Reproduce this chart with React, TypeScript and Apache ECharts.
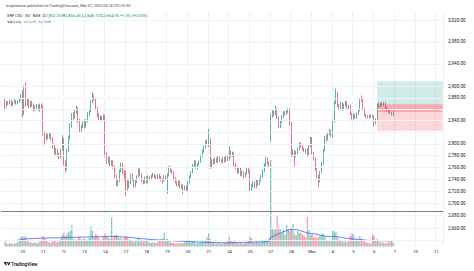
import React, { useEffect, useRef } from "react";
import * as echarts from "echarts";

const FONT = "Roboto, 'Noto Sans', sans-serif";
const UP = "#089981";
const DOWN = "#F23645";

// Day labels of the time axis (first = Feb 7, partly visible; last three = future days)
const dayLabels = ["7", "10", "11", "12", "13", "14", "17", "18", "19", "20", "21", "24", "25", "27", "28", "Mar", "4", "5", "6", "7", "10", "11"];
const sessionTimes = ["09:15", "09:45", "10:15", "10:45", "11:15", "11:45", "12:15", "12:45", "13:15", "13:45", "14:15", "14:45", "15:15"];
const lastDaySlots = 5;

// 30-min bars: [open, high, low, close]
const feb07 = [[2876,2880,2858,2866],[2866,2874,2863,2872],[2872,2875,2867,2870],[2870,2877,2868,2874],[2874,2876,2865,2868],[2868,2874,2866,2872],[2872,2877,2870,2874],[2874,2876,2868,2871],[2871,2876,2869,2873],[2873,2880,2871,2878],[2878,2886,2876,2882]];
const feb10 = [[2884,2893,2846,2852],[2852,2902,2850,2896],[2898,2907,2864,2870],[2870,2879,2866,2876],[2876,2878,2862,2866],[2866,2875,2863,2872],[2872,2874,2864,2868],[2868,2870,2856,2860],[2860,2867,2857,2864],[2864,2869,2861,2866],[2866,2868,2857,2860],[2860,2870,2856,2868],[2868,2870,2860,2864]];
const feb11 = [[2864,2868,2814,2818],[2818,2822,2797,2810],[2810,2818,2806,2815],[2815,2818,2808,2812],[2812,2820,2809,2816],[2816,2818,2806,2810],[2810,2812,2792,2795],[2795,2798,2781,2785],[2785,2793,2782,2790],[2790,2792,2779,2782],[2782,2785,2774,2778],[2778,2792,2776,2790],[2790,2815,2788,2812]];
const feb12 = [[2808,2810,2764,2768],[2768,2772,2752,2760],[2760,2792,2756,2790],[2790,2814,2786,2812],[2812,2836,2808,2832],[2832,2853,2828,2850],[2850,2855,2842,2846],[2846,2860,2843,2856],[2856,2866,2852,2862],[2862,2864,2836,2840],[2840,2843,2820,2824],[2824,2833,2820,2830],[2830,2839,2827,2836]];
const feb13 = [[2835,2840,2826,2830],[2830,2843,2828,2840],[2840,2855,2837,2852],[2852,2861,2848,2858],[2858,2876,2855,2874],[2874,2890,2870,2882],[2882,2886,2874,2878],[2878,2880,2858,2862],[2862,2864,2846,2850],[2850,2853,2840,2843],[2843,2849,2840,2846],[2846,2848,2838,2842],[2842,2851,2840,2848]];
const feb14 = [[2848,2850,2778,2782],[2782,2786,2766,2770],[2770,2779,2766,2775],[2775,2778,2762,2766],[2766,2773,2763,2770],[2770,2772,2758,2762],[2762,2764,2742,2745],[2745,2748,2728,2732],[2732,2741,2729,2738],[2738,2757,2735,2755],[2755,2768,2752,2766],[2766,2768,2749,2752],[2752,2755,2737,2740]];
const feb17 = [[2748,2755,2712,2738],[2738,2741,2722,2728],[2728,2738,2725,2735],[2735,2750,2732,2748],[2748,2750,2737,2740],[2740,2742,2726,2729],[2729,2739,2727,2736],[2736,2747,2734,2745],[2745,2759,2743,2756],[2756,2758,2746,2748],[2748,2750,2736,2738],[2738,2740,2732,2735],[2735,2745,2733,2742]];
const feb18 = [[2742,2745,2733,2736],[2736,2747,2734,2744],[2744,2746,2738,2741],[2741,2748,2739,2746],[2746,2751,2744,2748],[2748,2750,2742,2745],[2745,2747,2739,2742],[2742,2749,2740,2747],[2747,2749,2741,2744],[2744,2746,2737,2740],[2740,2742,2733,2738],[2738,2747,2736,2745],[2745,2747,2739,2742]];
const feb19 = [[2742,2750,2716,2748],[2748,2763,2745,2760],[2760,2762,2752,2755],[2755,2757,2749,2752],[2752,2754,2740,2742],[2742,2744,2733,2735],[2735,2737,2728,2730],[2730,2738,2728,2736],[2736,2738,2725,2727],[2727,2732,2724,2730],[2730,2732,2716,2724],[2724,2730,2722,2728],[2728,2730,2721,2724]];
const feb20 = [[2724,2737,2720,2735],[2735,2747,2733,2745],[2745,2754,2742,2752],[2752,2766,2750,2764],[2764,2772,2761,2770],[2770,2772,2758,2760],[2760,2767,2757,2765],[2765,2772,2763,2770],[2770,2782,2768,2780],[2780,2790,2777,2788],[2788,2797,2785,2795],[2795,2806,2792,2803],[2803,2808,2797,2800]];
const feb21 = [[2800,2826,2795,2808],[2808,2810,2758,2762],[2762,2774,2759,2772],[2772,2775,2765,2768],[2768,2777,2766,2775],[2775,2777,2768,2770],[2770,2779,2768,2777],[2777,2779,2770,2772],[2772,2774,2767,2770],[2770,2778,2768,2776],[2776,2778,2769,2771],[2771,2780,2769,2778],[2778,2780,2771,2774]];
const feb24 = [[2774,2795,2772,2786],[2786,2789,2777,2780],[2780,2787,2778,2784],[2784,2786,2762,2765],[2765,2768,2757,2760],[2760,2762,2749,2752],[2752,2760,2750,2758],[2758,2760,2745,2748],[2748,2755,2746,2752],[2752,2754,2742,2745],[2745,2752,2743,2750],[2750,2760,2748,2758],[2758,2760,2750,2754]];
const feb25 = [[2754,2756,2720,2724],[2724,2733,2721,2730],[2730,2737,2727,2735],[2735,2737,2725,2728],[2728,2740,2726,2738],[2738,2740,2729,2732],[2732,2742,2730,2740],[2740,2747,2737,2745],[2745,2757,2743,2755],[2755,2767,2752,2765],[2765,2778,2762,2775],[2775,2777,2765,2768],[2768,2770,2760,2764]];
const feb27 = [[2808,2852,2804,2848],[2848,2858,2845,2856],[2856,2858,2848,2852],[2852,2866,2850,2860],[2860,2862,2843,2845],[2845,2847,2827,2830],[2830,2840,2827,2838],[2838,2850,2836,2848],[2848,2857,2845,2855],[2855,2857,2849,2852],[2852,2860,2850,2858],[2858,2862,2853,2860],[2860,2862,2832,2835]];
const feb28 = [[2835,2838,2778,2782],[2782,2791,2779,2788],[2788,2790,2762,2780],[2780,2788,2777,2786],[2786,2794,2783,2792],[2792,2802,2789,2800],[2800,2803,2794,2796],[2796,2798,2788,2790],[2790,2794,2786,2788],[2788,2792,2783,2790],[2790,2792,2778,2782],[2782,2800,2780,2798],[2798,2812,2795,2810]];
const mar03 = [[2808,2812,2782,2785],[2785,2787,2772,2775],[2775,2777,2755,2758],[2758,2760,2742,2745],[2745,2748,2727,2738],[2738,2754,2735,2752],[2752,2770,2750,2768],[2768,2792,2765,2790],[2790,2814,2787,2812],[2812,2816,2804,2808],[2808,2820,2806,2818],[2818,2826,2815,2822],[2822,2824,2812,2816]];
const mar04 = [[2816,2842,2810,2840],[2840,2874,2837,2872],[2872,2896,2869,2888],[2888,2890,2864,2866],[2866,2869,2858,2862],[2862,2873,2860,2870],[2870,2872,2857,2860],[2860,2870,2858,2868],[2868,2875,2865,2872],[2872,2874,2859,2862],[2862,2868,2860,2866],[2866,2868,2850,2852],[2852,2854,2842,2845]];
const mar05 = [[2845,2853,2842,2850],[2850,2852,2843,2845],[2845,2854,2843,2852],[2852,2860,2850,2858],[2858,2880,2856,2878],[2878,2884,2873,2876],[2876,2878,2858,2860],[2860,2862,2848,2850],[2850,2852,2844,2846],[2846,2850,2844,2848],[2848,2850,2844,2846],[2846,2851,2845,2849],[2849,2850,2845,2847]];
const mar06 = [[2847,2849,2830,2836],[2836,2844,2834,2842],[2842,2870,2840,2868],[2868,2872,2863,2866],[2866,2872,2864,2870],[2870,2872,2865,2868],[2868,2873,2866,2871],[2871,2872,2860,2862],[2862,2864,2856,2858],[2858,2860,2853,2856],[2856,2858,2851,2852],[2852,2855,2849,2853.6],[2852.2,2856.45,2848.1,2854.95]];

// Volume (thousands)
const volFeb07 = [25,18,15,20,17,14,18,20,25,42,55];
const volFeb10 = [60,55,58,35,28,25,22,20,25,18,22,30,40];
const volFeb11 = [60,45,35,28,25,22,30,35,28,25,30,45,66];
const volFeb12 = [80,60,75,85,90,124,45,40,35,50,55,40,45];
const volFeb13 = [45,35,40,50,118,90,55,75,65,50,30,45,60];
const volFeb14 = [75,60,50,45,167,50,65,70,60,45,50,40,55];
const volFeb17 = [60,50,40,35,30,28,35,40,50,35,30,28,35];
const volFeb18 = [40,28,22,20,25,22,20,28,35,40,45,80,30];
const volFeb19 = [45,35,25,20,22,18,20,15,22,18,20,25,30];
const volFeb20 = [35,30,25,30,28,18,20,22,25,30,28,40,55];
const volFeb21 = [78,45,25,22,18,16,20,18,16,18,22,20,30];
const volFeb24 = [57,35,25,35,25,20,18,22,18,16,20,22,35];
const volFeb25 = [57,48,25,22,30,25,20,28,30,35,40,30,50];
const volFeb27 = [500,110,95,100,175,110,100,80,95,70,124,100,90];
const volFeb28 = [110,130,70,65,90,75,80,70,60,50,170,95,65];
const volMar03 = [75,55,50,50,55,65,70,75,60,40,35,30,40];
const volMar04 = [90,85,85,55,40,35,30,28,30,25,30,60,75];
const volMar05 = [70,40,35,30,60,45,40,28,25,22,20,18,70];
const volMar06 = [60,35,45,30,22,25,20,18,22,25,28,30,20.51];

// Volume MA (20) (thousands)
const maFeb07 = [33,33,34,34,34,35,35,35,36,37,38];
const maFeb10 = [40,42,43,44,45,45,46,46,47,47,47,48,48];
const maFeb11 = [49,49,49,49,49,50,50,50,50,50,51,51,51];
const maFeb12 = [52,52,52,53,53,53,53,53,54,54,54,54,54];
const maFeb13 = [55,55,55,55,56,56,56,56,56,56,56,56,57];
const maFeb14 = [57,57,57,58,58,58,58,57,57,57,56,56,55];
const maFeb17 = [54,53,53,52,51,50,49,48,47,46,45,45,44];
const maFeb18 = [43,42,41,40,40,39,39,38,38,38,37,37,36];
const maFeb19 = [35,35,34,33,33,32,32,31,31,30,30,30,29];
const maFeb20 = [29,28,28,27,27,26,26,26,25,25,25,25,24];
const maFeb21 = [24,24,23,23,23,23,23,23,22,22,22,22,22];
const maFeb24 = [22,22,22,23,23,23,23,23,23,23,24,24,24];
const maFeb25 = [25,25,25,25,26,26,26,27,27,27,28,28,29];
const maFeb27 = [52,56,60,65,70,74,78,82,86,89,92,95,97];
const maFeb28 = [99,100,99,97,95,92,90,87,84,81,79,77,76];
const maMar03 = [75,74,72,70,68,66,64,62,60,59,58,57,57];
const maMar04 = [58,58,57,56,55,53,51,49,48,47,46,45,44];
const maMar05 = [43,42,41,41,40,39,38,37,36,36,35,35,35];
const maMar06 = [35,34,34,34,34,33,33,33,33,33,33,33,32.93];

const ohlcDays = [feb07, feb10, feb11, feb12, feb13, feb14, feb17, feb18, feb19, feb20, feb21, feb24, feb25, feb27, feb28, mar03, mar04, mar05, mar06];
const volDays = [volFeb07, volFeb10, volFeb11, volFeb12, volFeb13, volFeb14, volFeb17, volFeb18, volFeb19, volFeb20, volFeb21, volFeb24, volFeb25, volFeb27, volFeb28, volMar03, volMar04, volMar05, volMar06];
const maDays = [maFeb07, maFeb10, maFeb11, maFeb12, maFeb13, maFeb14, maFeb17, maFeb18, maFeb19, maFeb20, maFeb21, maFeb24, maFeb25, maFeb27, maFeb28, maMar03, maMar04, maMar05, maMar06];

// Price scale labels and drawings
const priceLabels = [3020, 2980, 2940, 2900, 2880, 2840, 2800, 2780, 2760, 2740, 2720, 2700, 2680, 2660];
const hiddenGridPrices = [2860, 2820, 2640];
const positionEntry = 2868.45;
const positionTarget = 2909.05;
const positionStop = 2822.70;
const positionStartBar = 2; // bar index within the last session
const drawnLevel = 2687;

const SLOTS = 13;
const categories: string[] = [];
const dayStart: boolean[] = [];
dayLabels.forEach((lab, d) => {
  const n = d === dayLabels.length - 1 ? lastDaySlots : SLOTS;
  for (let k = 0; k < n; k++) {
    categories.push(`${lab}|${sessionTimes[k]}|${d}`);
    dayStart.push(k === 0);
  }
});

const candles: any[] = [];
const vols: any[] = [];
const mas: any[] = [];
ohlcDays.forEach((day, d) => {
  const offset = SLOTS - day.length;
  day.forEach((b, k) => {
    const idx = d * SLOTS + offset + k;
    candles.push([idx, b[0], b[3], b[2], b[1]]);
    const up = b[3] >= b[0];
    vols.push({ value: [idx, volDays[d][k]], itemStyle: { color: up ? "rgba(8,153,129,0.5)" : "rgba(242,54,69,0.5)" } });
    mas.push([idx, maDays[d][k]]);
  });
});
const lastDataSlot = (ohlcDays.length - 1) * SLOTS;
const lastSlot = categories.length - 1;
const posStartCat = categories[lastDataSlot + positionStartBar];
const lastCat = categories[lastSlot];

const fmt = (v: number) => v.toLocaleString("en-US", { minimumFractionDigits: 2, maximumFractionDigits: 2 });
const lastBar = mar06[mar06.length - 1];
const prevClose = mar06[mar06.length - 2][3];
const chg = lastBar[3] - prevClose;
const chgPct = (chg / prevClose) * 100;
const lastVol = volMar06[volMar06.length - 1];
const lastMa = maMar06[maMar06.length - 1];

const TV_PATH = "M14 22H7V11H0V4h14v18zM28 22h-8l7.5-18h8L28 22zM20 12a4 4 0 1 0 0-8a4 4 0 1 0 0 8z";
echarts.graphic.registerShape("tvlogo", echarts.graphic.extendPath(TV_PATH, {}) as any);

const boxLabel = (bg: string) => ({
  show: true,
  position: "end",
  distance: 2.6,
  color: "#ffffff",
  backgroundColor: bg,
  padding: [0.9, 1.5, 0.6, 1.5],
  borderRadius: 0.6,
  fontSize: 4.6,
  fontFamily: FONT,
});

const gridMarks = [...priceLabels, ...hiddenGridPrices].map((v) => ({
  yAxis: v,
  label: { show: priceLabels.includes(v), formatter: fmt(v) },
}));

const option: any = {
  animation: false,
  backgroundColor: "#ffffff",
  textStyle: { fontFamily: FONT },
  grid: { left: 1, right: 30.6, top: 12, bottom: 24.5, outerBoundsMode: "none" },
  xAxis: [
    {
      type: "category",
      data: categories,
      boundaryGap: true,
      axisLine: { show: false },
      axisTick: { show: false },
      axisLabel: {
        interval: (i: number) => dayStart[i] && i > 0,
        formatter: (v: string) => v.split("|")[0],
        color: "#131722",
        fontSize: 4.4,
        margin: 3.3,
        fontFamily: FONT,
      },
      splitLine: {
        show: true,
        interval: (i: number) => dayStart[i] && i > 0 && i <= lastDataSlot,
        lineStyle: { color: "#c3cff0", width: 0.8, type: [1, 1.6] },
      },
    },
    {
      type: "category",
      data: categories,
      position: "top",
      axisLine: { show: false },
      axisTick: { show: false },
      axisLabel: { show: false },
      splitLine: {
        show: true,
        interval: (i: number) => dayStart[i] && i > lastDataSlot,
        lineStyle: { color: "#eef0f5", width: 1 },
      },
    },
  ],
  yAxis: [
    {
      type: "log",
      logBase: 10,
      min: 2630.15,
      max: 3034.78,
      axisLine: { show: false },
      axisTick: { show: false },
      axisLabel: { show: false },
      splitLine: { show: false },
    },
    { type: "value", min: 0, max: 1355, show: false, splitLine: { show: false } },
  ],
  series: [
    {
      type: "line",
      name: "priceScale",
      xAxisIndex: 0,
      yAxisIndex: 0,
      data: [],
      z: 1,
      silent: true,
      markLine: {
        silent: true,
        symbol: ["none", "none"],
        lineStyle: { color: "#f0f3fa", width: 1, type: "solid" },
        label: { position: "end", distance: 4.6, color: "#131722", fontSize: 4.6, fontFamily: FONT },
        data: gridMarks,
      },
    },
    {
      type: "bar",
      name: "Vol",
      xAxisIndex: 0,
      yAxisIndex: 1,
      data: vols,
      barWidth: 1.3,
      z: 2,
    },
    {
      type: "line",
      name: "Vol MA",
      xAxisIndex: 0,
      yAxisIndex: 1,
      data: mas,
      showSymbol: false,
      lineStyle: { color: "#2962FF", width: 0.8 },
      z: 3,
      markLine: {
        silent: true,
        symbol: ["none", "none"],
        lineStyle: { opacity: 0 },
        data: [{ yAxis: lastMa, label: { ...boxLabel("#2962FF"), formatter: lastMa.toFixed(2) + "K" } }],
      },
    },
    {
      type: "candlestick",
      name: "SRF",
      xAxisIndex: 0,
      yAxisIndex: 0,
      data: candles,
      encode: { x: 0, y: [1, 2, 3, 4] },
      barWidth: 1.3,
      itemStyle: { color: UP, color0: DOWN, borderColor: UP, borderColor0: DOWN, borderWidth: 0.7 },
      z: 4,
    },
    {
      type: "line",
      name: "position",
      xAxisIndex: 0,
      yAxisIndex: 0,
      data: [],
      z: 5,
      silent: true,
      markArea: {
        silent: true,
        data: [
          [{ xAxis: posStartCat, yAxis: positionEntry, itemStyle: { color: "rgba(8,153,129,0.2)" } }, { xAxis: lastCat, yAxis: positionTarget }],
          [{ xAxis: posStartCat, yAxis: positionStop, itemStyle: { color: "rgba(242,54,69,0.2)" } }, { xAxis: lastCat, yAxis: positionEntry }],
          [{ xAxis: posStartCat, yAxis: lastBar[3], itemStyle: { color: "rgba(242,54,69,0.28)" } }, { xAxis: lastCat, yAxis: positionEntry }],
        ],
      },
      markLine: {
        silent: true,
        symbol: ["none", "none"],
        data: [
          { yAxis: drawnLevel, lineStyle: { color: "#787b86", width: 1, type: "solid" }, label: { show: false } },
          { yAxis: positionTarget, lineStyle: { opacity: 0 }, label: { ...boxLabel(UP), formatter: fmt(positionTarget) } },
          { yAxis: positionEntry, lineStyle: { opacity: 0 }, label: { ...boxLabel("#6a6d78"), formatter: fmt(positionEntry) } },
          { yAxis: lastBar[3], lineStyle: { opacity: 0 }, label: { ...boxLabel(UP), formatter: fmt(lastBar[3]) } },
          { yAxis: positionStop, lineStyle: { opacity: 0 }, label: { ...boxLabel(DOWN), formatter: fmt(positionStop) } },
        ],
      },
    },
  ],
  graphic: [
    {
      type: "text",
      x: 6,
      y: 5,
      style: {
        text: "krupeitanna published on TradingView.com, Mar 07, 2025 00:14 UTC+5:30",
        fontSize: 3.8,
        fontFamily: FONT,
        fill: "#3d404a",
        verticalAlign: "middle",
      },
    },
    {
      type: "text",
      x: 7,
      y: 15.7,
      style: {
        text: `{d|SRF LTD · 30 · NSE}  {d|O}{v|${fmt(lastBar[0])}} {d|H}{v|${fmt(lastBar[1])}} {d|L}{v|${fmt(lastBar[2])}} {d|C}{v|${fmt(lastBar[3])}} {v|${chg >= 0 ? "+" : ""}${chg.toFixed(2)} (${chg >= 0 ? "+" : ""}${chgPct.toFixed(2)}%)}`,
        fontSize: 4.1,
        fontFamily: FONT,
        verticalAlign: "middle",
        rich: {
          d: { fill: "#131722", color: "#131722", fontSize: 4.1, fontFamily: FONT },
          v: { fill: UP, color: UP, fontSize: 4.1, fontFamily: FONT },
        },
      },
    },
    {
      type: "text",
      x: 7,
      y: 21.6,
      style: {
        text: `{d|Vol (20)}  {v|${lastVol.toFixed(2)}K}  {b|${lastMa.toFixed(2)}K}`,
        fontSize: 4.1,
        fontFamily: FONT,
        verticalAlign: "middle",
        rich: {
          d: { fill: "#131722", color: "#131722", fontSize: 4.1, fontFamily: FONT },
          v: { fill: UP, color: UP, fontSize: 4.1, fontFamily: FONT },
          b: { fill: "#2962FF", color: "#2962FF", fontSize: 4.1, fontFamily: FONT },
        },
      },
    },
    {
      type: "tvlogo",
      x: 4,
      y: 261.4,
      scaleX: 0.18,
      scaleY: 0.18,
      style: { fill: "#131722" },
    },
    {
      type: "text",
      x: 11.2,
      y: 264,
      style: {
        text: "TradingView",
        fontSize: 4.7,
        fontWeight: 600,
        fontFamily: FONT,
        fill: "#131722",
        verticalAlign: "middle",
      },
    },
  ],
};

export default function App() {
  const ref = useRef<HTMLDivElement>(null);
  useEffect(() => {
    document.body.style.margin = "0";
    const chart = echarts.init(ref.current!, null, { renderer: "svg" });
    chart.setOption(option);
    return () => chart.dispose();
  }, []);
  return <div ref={ref} style={{ width: 474, height: 271, background: "#ffffff" }} />;
}
